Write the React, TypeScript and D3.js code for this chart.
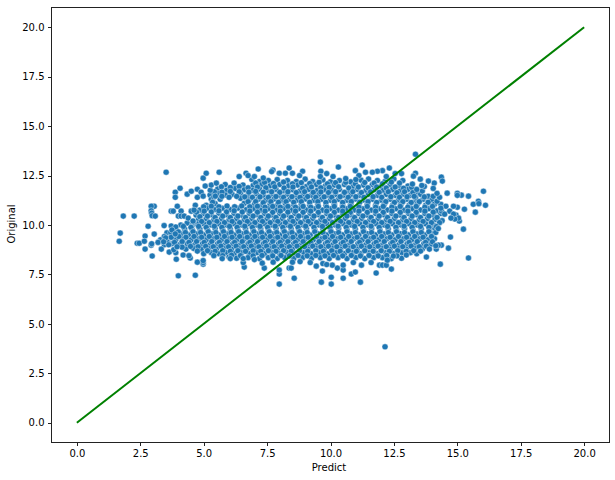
import { useEffect, useRef } from 'react';
import * as d3 from 'd3';

type Pt = [number, number];

const xTicks = [0, 2.5, 5, 7.5, 10, 12.5, 15, 17.5, 20];
const yTicks = [0, 2.5, 5, 7.5, 10, 12.5, 15, 17.5, 20];
const idealLine: Pt[] = [[0, 0], [20, 20]];

// points on the left side of the cloud
const leftPoints: Pt[] = [
  [3.52,12.67],[1.67,9.18],[1.71,9.59],[1.83,10.45],[2.26,10.45],[2.38,9.08],[2.46,9.08],[2.81,9.94],[2.69,9.44],[2.66,9.18],
  [2.69,8.78],[2.97,8.43],[2.97,10.95],[3.05,10.95],[2.93,10.95],[2.93,10.72],[2.95,10.6],[2.97,10.47],[3.09,10.45],[2.93,8.98],[2.95,9.05],
  [3.05,9.54],[3.44,9.97],[3.33,8.78],[4.0,7.43],[4.67,7.46],[4.98,8.02],[4.98,8.1],[4.75,8.12],[3.64,8.63],[3.92,8.27],
  [4.19,8.48],[4.47,8.33],[4.42,8.45],[3.88,11.66],[3.88,11.4],[4.07,11.86],[4.35,11.56],[4.51,11.71],[4.75,11.81],[4.9,11.66],
  [4.75,11.4],[4.98,11.46],[5.06,11.97],[5.26,11.76],[5.3,12.02],[5.5,12.12],[4.98,12.37],[5.1,12.62],[5.61,12.67],[5.46,11.46],
  [3.72,10.7],[3.8,10.7],[3.96,10.95],[4.11,10.7],[4.0,10.45],[4.11,10.45],[4.23,10.45],[4.39,10.35],[4.58,10.2],[4.51,10.7],
  [4.67,11.0],[4.62,10.75],[3.9,8.6],[3.82,8.75],[3.95,8.9],[3.62,9.0],[3.75,9.75],[3.88,9.55],[3.5,9.35],[3.42,9.15],
];

// top edge of the cloud
const topPoints: Pt[] = [
  [9.6,13.18],[10.31,12.93],[11.25,13.03],[8.37,12.88],[7.15,12.83],[7.73,12.78],[7.68,12.7],[7.98,12.62],[8.5,12.62],[8.9,12.72],[9.62,12.72],
  [10.98,12.75],[12.32,12.88],[12.05,12.75],[11.85,12.72],[11.65,12.67],[11.38,12.67],[11.12,12.5],[6.67,12.62],[6.75,12.5],[8.78,12.5],
  [9.6,12.45],[10.1,12.45],[8.22,12.62],[6.4,12.45],[7.0,12.45],[7.35,12.38],[9.85,12.6],[10.6,12.35],[11.0,12.3],
  [13.35,13.58],[13.35,12.62],[13.27,12.47],[12.8,12.6],[12.55,12.6],[12.2,12.45],
];

// bottom edge of the cloud
const bottomPoints: Pt[] = [
  [7.98,7.01],[8.57,7.31],[9.64,7.11],[10.03,7.01],[10.03,7.36],[10.5,7.31],[11.18,7.11],[10.82,7.52],[10.98,7.62],[11.8,7.57],
  [12.4,7.77],[7.98,7.52],[7.98,7.72],[6.6,7.87],[7.39,7.82],[7.31,8.07],[4.98,8.2],[9.68,7.67],[10.27,7.82],[10.5,7.72],
  [10.5,7.97],[10.07,7.97],[11.22,7.97],[11.93,7.97],[12.05,7.97],[12.2,7.97],[12.24,8.22],[9.44,7.92],[8.37,7.82],[8.45,7.82],
  [5.73,8.3],[6.05,8.3],[6.56,8.1],[6.56,8.3],[7.74,8.12],[8.5,8.12],[12.48,8.43],[12.99,8.48],[9.7,8.05],[9.85,8.0],
  [9.2,8.1],[8.8,8.15],[10.9,8.1],[11.6,8.1],[7.0,8.25],[5.4,8.45],
];

// right side of the cloud, including the loose points past x = 14
const rightPoints: Pt[] = [
  [16.03,11.71],[16.11,11.0],[15.83,11.2],[15.63,11.05],[15.85,11.08],[15.71,10.65],[15.44,11.46],[15.16,11.51],[15.0,11.6],[15.0,11.5],
  [14.6,11.61],[15.28,10.8],[15.0,10.9],[15.08,10.2],[15.24,9.79],[14.73,9.39],[14.65,8.83],[15.44,8.33],[14.33,8.02],[13.78,8.38],
  [14.37,8.98],[14.17,8.78],[14.25,8.98],[14.15,8.95],[13.9,8.78],[14.25,9.82],[14.37,12.42],[14.41,12.22],[14.09,12.12],[13.86,12.22],
  [13.54,12.32],[13.23,12.07],[14.55,10.95],[14.85,10.95],[14.7,10.7],[14.95,10.5],[15.05,10.35],[14.9,10.3],[14.5,10.55],[14.3,11.4],
  [14.2,11.6],[14.05,11.85],[13.7,11.95],[13.6,12.0],[13.4,11.8],[13.3,11.45],[14.35,10.85],[14.85,10.55],[14.75,10.35],
];

// stray point far under the cloud
const strayPoints: Pt[] = [[12.15,3.84]];

// the dense middle, read row by row from top to bottom
const densePoints: Pt[] = [
  [6.9,12.3],[7.2,12.2],[7.55,12.25],[7.9,12.3],[8.3,12.25],[8.65,12.2],[9.0,12.32],[9.3,12.2],[9.7,12.28],[10.0,12.18],[10.35,12.25],[10.8,12.18],[11.2,12.27],[11.5,12.33],[11.85,12.25],[12.15,12.2],[12.5,12.33],[12.85,12.25],
  [5.85,12.05],[6.2,12.12],[6.55,12.02],[6.95,12.0],[7.3,12.05],[7.62,11.98],[8.0,12.05],[8.35,11.98],[8.7,12.02],[9.05,11.95],[9.45,12.05],[9.8,11.98],[10.15,12.02],[10.55,12.05],[10.9,11.95],[11.3,12.02],[11.65,12.05],[12.0,11.97],[12.35,12.05],[12.7,12.0],[13.05,11.97],
  [5.55,11.82],[5.9,11.75],[6.25,11.85],[6.6,11.78],[6.92,11.75],[7.2,11.82],[7.5,11.75],[7.85,11.8],[8.15,11.73],[8.5,11.78],[8.8,11.72],[9.15,11.8],[9.48,11.75],[9.75,11.78],[10.05,11.75],[10.35,11.8],[10.72,11.72],[11.05,11.8],[11.4,11.75],[11.72,11.78],[12.08,11.75],[12.45,11.8],[12.75,11.72],[13.05,11.8],[13.4,11.65],
  [5.25,11.52],[5.55,11.6],[5.85,11.52],[6.12,11.55],[6.45,11.6],[6.75,11.5],[7.08,11.58],[7.35,11.5],[7.68,11.55],[7.98,11.5],[8.3,11.56],[8.62,11.5],[8.95,11.55],[9.25,11.5],[9.55,11.55],[9.9,11.5],[10.2,11.55],[10.5,11.5],[10.82,11.55],[11.15,11.5],[11.5,11.55],[11.85,11.5],[12.2,11.55],[12.55,11.5],[12.88,11.56],[13.15,11.5],[13.55,11.55],[13.85,11.45],
  [5.3,11.3],[5.65,11.3],[6.45,11.35],[6.8,11.28],[7.15,11.3],[7.45,11.25],[7.78,11.32],[8.08,11.25],[8.4,11.3],[8.7,11.27],[9.02,11.32],[9.35,11.25],[9.65,11.3],[10.0,11.25],[10.32,11.3],[10.65,11.25],[10.98,11.32],[11.3,11.27],[11.65,11.3],[12.0,11.25],[12.35,11.3],[12.68,11.25],[13.0,11.3],[13.35,11.25],[13.65,11.3],[14.0,11.28],
  [5.1,11.0],[5.45,11.08],[6.6,11.1],[7.0,11.05],[7.3,11.0],[7.62,11.05],[7.92,11.02],[8.22,11.08],[8.55,11.02],[8.85,11.05],[9.18,11.0],[9.5,11.05],[9.82,11.0],[10.15,11.05],[10.48,11.0],[10.8,11.05],[11.12,11.02],[11.45,11.05],[11.78,11.0],[12.12,11.05],[12.45,11.0],[12.78,11.05],[13.1,11.0],[13.42,11.05],[13.75,11.0],[14.1,11.05],[14.35,11.05],
  [4.85,10.75],[5.15,10.85],[5.45,10.78],[5.75,10.85],[6.05,10.78],[6.35,10.85],[6.68,10.78],[6.98,10.82],[7.25,10.75],[7.55,10.82],[7.85,10.76],[8.15,10.82],[8.45,10.75],[8.75,10.82],[9.05,10.76],[9.35,10.82],[9.68,10.75],[10.0,10.82],[10.3,10.75],[10.62,10.82],[10.95,10.76],[11.28,10.82],[11.6,10.75],[11.92,10.82],[12.25,10.76],[12.58,10.82],[12.9,10.75],[13.22,10.82],[13.55,10.76],[13.88,10.82],[14.2,10.72],
  [4.7,10.5],[5.0,10.58],[5.3,10.52],[5.6,10.6],[5.9,10.52],[6.2,10.58],[6.5,10.5],[6.8,10.58],[7.1,10.52],[7.4,10.58],[7.7,10.5],[8.0,10.58],[8.3,10.52],[8.6,10.58],[8.9,10.5],[9.2,10.58],[9.52,10.52],[9.85,10.58],[10.15,10.5],[10.48,10.58],[10.8,10.52],[11.12,10.58],[11.45,10.5],[11.78,10.58],[12.1,10.52],[12.42,10.58],[12.75,10.5],[13.08,10.58],[13.4,10.52],[13.72,10.58],[14.05,10.5],[14.35,10.58],
  [4.35,10.1],[4.55,10.0],[4.8,10.28],[5.1,10.32],[5.4,10.25],[5.7,10.32],[6.0,10.25],[6.3,10.32],[6.6,10.25],[6.9,10.32],[7.2,10.25],[7.5,10.32],[7.8,10.25],[8.1,10.32],[8.4,10.25],[8.7,10.32],[9.0,10.25],[9.3,10.32],[9.62,10.25],[9.95,10.32],[10.25,10.25],[10.58,10.32],[10.9,10.25],[11.22,10.32],[11.55,10.25],[11.88,10.32],[12.2,10.25],[12.52,10.32],[12.85,10.25],[13.18,10.32],[13.5,10.25],[13.82,10.32],[14.12,10.28],[14.4,10.22],
  [4.1,10.0],[4.75,10.05],[5.02,10.05],[5.3,10.0],[5.6,10.06],[5.9,10.0],[6.2,10.06],[6.5,10.0],[6.8,10.06],[7.1,10.0],[7.4,10.06],[7.7,10.0],[8.0,10.06],[8.3,10.0],[8.6,10.06],[8.92,10.0],[9.22,10.06],[9.55,10.0],[9.85,10.06],[10.18,10.0],[10.5,10.06],[10.82,10.0],[11.15,10.06],[11.48,10.0],[11.8,10.06],[12.12,10.0],[12.45,10.06],[12.78,10.0],[13.1,10.06],[13.42,10.0],[13.75,10.06],[14.05,10.0],
  [3.72,9.95],[3.95,9.7],[4.25,9.8],[4.55,9.75],[4.85,9.8],[5.15,9.75],[5.45,9.82],[5.75,9.75],[6.05,9.8],[6.35,9.75],[6.65,9.82],[6.95,9.75],[7.25,9.8],[7.55,9.75],[7.85,9.82],[8.15,9.75],[8.45,9.8],[8.75,9.75],[9.05,9.82],[9.38,9.75],[9.7,9.8],[10.0,9.75],[10.32,9.82],[10.65,9.75],[10.98,9.8],[11.3,9.75],[11.62,9.82],[11.95,9.75],[12.28,9.8],[12.6,9.75],[12.92,9.82],[13.25,9.75],[13.58,9.8],[13.9,9.75],[14.12,9.82],
  [3.55,9.6],[3.8,9.45],[4.1,9.55],[4.4,9.5],[4.7,9.55],[5.0,9.5],[5.3,9.56],[5.6,9.5],[5.9,9.55],[6.2,9.5],[6.5,9.56],[6.8,9.5],[7.1,9.55],[7.4,9.5],[7.7,9.56],[8.0,9.5],[8.3,9.55],[8.6,9.5],[8.9,9.56],[9.2,9.5],[9.52,9.55],[9.85,9.5],[10.15,9.56],[10.48,9.5],[10.8,9.55],[11.12,9.5],[11.45,9.56],[11.78,9.5],[12.1,9.55],[12.42,9.5],[12.75,9.56],[13.08,9.5],[13.4,9.55],[13.72,9.5],[14.0,9.55],
  [3.3,9.25],[3.6,9.3],[3.9,9.25],[4.2,9.3],[4.5,9.25],[4.8,9.3],[5.1,9.25],[5.4,9.3],[5.7,9.25],[6.0,9.3],[6.3,9.25],[6.6,9.3],[6.9,9.25],[7.2,9.3],[7.5,9.25],[7.8,9.3],[8.1,9.25],[8.4,9.3],[8.7,9.25],[9.0,9.3],[9.32,9.25],[9.65,9.3],[9.95,9.25],[10.28,9.3],[10.6,9.25],[10.92,9.3],[11.25,9.25],[11.58,9.3],[11.9,9.25],[12.22,9.3],[12.55,9.25],[12.88,9.3],[13.2,9.25],[13.52,9.3],[13.85,9.25],[14.1,9.3],
  [3.45,9.0],[3.75,9.05],[4.05,9.0],[4.35,9.05],[4.65,9.0],[4.95,9.05],[5.25,9.0],[5.55,9.05],[5.85,9.0],[6.15,9.05],[6.45,9.0],[6.75,9.05],[7.05,9.0],[7.35,9.05],[7.65,9.0],[7.95,9.05],[8.25,9.0],[8.55,9.05],[8.85,9.0],[9.15,9.05],[9.48,9.0],[9.8,9.05],[10.1,9.0],[10.42,9.05],[10.75,9.0],[11.08,9.05],[11.4,9.0],[11.72,9.05],[12.05,9.0],[12.38,9.05],[12.7,9.0],[13.02,9.05],[13.35,9.0],[13.68,9.05],[13.95,9.02],
  [4.3,8.78],[4.6,8.82],[4.9,8.78],[5.2,8.82],[5.5,8.78],[5.8,8.82],[6.1,8.78],[6.4,8.82],[6.7,8.78],[7.0,8.82],[7.3,8.78],[7.6,8.82],[7.9,8.78],[8.2,8.82],[8.5,8.78],[8.8,8.82],[9.12,8.78],[9.45,8.82],[9.75,8.78],[10.08,8.82],[10.4,8.78],[10.72,8.82],[11.05,8.78],[11.38,8.82],[11.7,8.78],[12.02,8.82],[12.35,8.78],[12.68,8.82],[13.0,8.78],[13.32,8.82],[13.62,8.78],
  [5.0,8.55],[5.3,8.6],[5.6,8.55],[5.9,8.6],[6.2,8.55],[6.5,8.6],[6.8,8.55],[7.1,8.6],[7.4,8.55],[7.7,8.6],[8.0,8.55],[8.3,8.6],[8.62,8.55],[8.95,8.6],[9.25,8.55],[9.58,8.6],[9.9,8.55],[10.22,8.6],[10.55,8.55],[10.88,8.6],[11.2,8.55],[11.52,8.6],[11.85,8.55],[12.18,8.6],[12.5,8.55],[12.82,8.6],[13.15,8.6],[13.4,8.55],
  [6.0,8.38],[6.3,8.32],[6.75,8.35],[7.2,8.3],[7.55,8.35],[7.9,8.3],[8.2,8.35],[8.55,8.3],[8.9,8.35],[9.25,8.3],[9.6,8.35],[9.95,8.3],[10.3,8.35],[10.65,8.3],[11.0,8.35],[11.35,8.3],[11.7,8.35],[12.05,8.35],[12.4,8.3],[12.8,8.32],
];

// second pass over the middle, the points sitting in between the first rows
const denseFill: Pt[] = [
  [7.05,12.12],[7.4,12.15],[7.75,12.1],[8.15,12.17],[8.5,12.08],[8.85,12.14],[9.18,12.1],[9.55,12.16],[9.88,12.08],[10.2,12.14],[10.6,12.16],[10.98,12.08],[11.35,12.15],[11.72,12.12],[12.05,12.08],[12.4,12.17],[12.72,12.12],
  [5.7,11.93],[6.05,11.9],[6.4,11.95],[6.75,11.88],[7.12,11.92],[7.45,11.88],[7.8,11.93],[8.17,11.87],[8.52,11.92],[8.9,11.86],[9.25,11.92],[9.62,11.88],[9.95,11.9],[10.32,11.93],[10.72,11.87],[11.1,11.92],[11.48,11.88],[11.82,11.92],[12.2,11.87],[12.55,11.92],[12.88,11.86],[13.2,11.9],
  [5.42,11.68],[5.72,11.66],[6.05,11.7],[6.4,11.68],[6.78,11.66],[7.05,11.7],[7.35,11.66],[7.68,11.68],[8.0,11.65],[8.32,11.68],[8.65,11.64],[8.98,11.68],[9.32,11.65],[9.62,11.67],[9.92,11.64],[10.2,11.68],[10.55,11.65],[10.88,11.68],[11.22,11.64],[11.58,11.67],[11.92,11.65],[12.28,11.68],[12.62,11.63],[12.92,11.68],[13.25,11.64],[13.62,11.72],
  [5.4,11.42],[5.72,11.45],[6.0,11.4],[6.3,11.45],[6.62,11.42],[6.92,11.4],[7.22,11.42],[7.55,11.4],[7.85,11.44],[8.15,11.4],[8.48,11.43],[8.8,11.4],[9.1,11.44],[9.42,11.4],[9.75,11.42],[10.05,11.4],[10.38,11.43],[10.7,11.4],[11.0,11.43],[11.32,11.4],[11.68,11.43],[12.02,11.4],[12.38,11.43],[12.72,11.4],[13.02,11.43],[13.35,11.4],[13.7,11.42],[14.05,11.45],
  [5.35,11.15],[6.75,11.18],[7.05,11.18],[7.35,11.13],[7.65,11.18],[7.95,11.15],[8.25,11.18],[8.55,11.15],[8.85,11.18],[9.18,11.15],[9.5,11.18],[9.82,11.14],[10.15,11.18],[10.48,11.14],[10.82,11.18],[11.15,11.15],[11.48,11.18],[11.82,11.14],[12.18,11.18],[12.52,11.14],[12.85,11.18],[13.18,11.14],[13.5,11.18],[13.85,11.15],[14.2,11.2],
  [5.0,10.92],[5.3,10.95],[5.6,10.92],[5.92,10.96],[6.22,10.92],[6.5,10.96],[6.82,10.92],[7.12,10.95],[7.42,10.9],[7.72,10.94],[8.02,10.9],[8.32,10.94],[8.62,10.9],[8.92,10.94],[9.22,10.9],[9.52,10.94],[9.85,10.9],[10.15,10.94],[10.48,10.9],[10.78,10.94],[11.12,10.9],[11.45,10.94],[11.78,10.9],[12.08,10.94],[12.42,10.9],[12.75,10.94],[13.05,10.9],[13.38,10.94],[13.72,10.9],[14.02,10.94],
  [4.72,10.65],[5.02,10.7],[5.3,10.66],[5.6,10.72],[5.9,10.66],[6.2,10.72],[6.52,10.66],[6.82,10.7],[7.12,10.65],[7.42,10.7],[7.72,10.64],[8.02,10.7],[8.32,10.65],[8.62,10.7],[8.92,10.64],[9.22,10.7],[9.52,10.64],[9.85,10.7],[10.15,10.64],[10.48,10.7],[10.78,10.64],[11.12,10.7],[11.45,10.64],[11.78,10.7],[12.08,10.64],[12.42,10.7],[12.75,10.64],[13.05,10.7],[13.38,10.64],[13.72,10.7],[14.05,10.65],[14.38,10.7],
  [4.85,10.42],[5.15,10.45],[5.45,10.38],[5.75,10.45],[6.05,10.38],[6.35,10.45],[6.65,10.38],[6.95,10.45],[7.25,10.38],[7.55,10.45],[7.85,10.38],[8.15,10.45],[8.45,10.38],[8.75,10.45],[9.05,10.38],[9.35,10.45],[9.68,10.38],[10.0,10.45],[10.32,10.38],[10.65,10.45],[10.95,10.38],[11.28,10.45],[11.6,10.38],[11.92,10.45],[12.25,10.38],[12.58,10.45],[12.9,10.38],[13.22,10.45],[13.55,10.38],[13.88,10.45],[14.2,10.38],
  [4.6,10.15],[4.92,10.18],[5.22,10.12],[5.52,10.18],[5.82,10.12],[6.12,10.18],[6.42,10.12],[6.72,10.18],[7.02,10.12],[7.32,10.18],[7.62,10.12],[7.92,10.18],[8.22,10.12],[8.52,10.18],[8.82,10.12],[9.12,10.18],[9.45,10.12],[9.78,10.18],[10.08,10.12],[10.4,10.18],[10.72,10.12],[11.05,10.18],[11.38,10.12],[11.7,10.18],[12.02,10.12],[12.35,10.18],[12.68,10.12],[13.0,10.18],[13.32,10.12],[13.65,10.18],[13.98,10.12],[14.3,10.12],
  [3.9,9.9],[4.2,9.93],[4.5,9.88],[4.8,9.93],[5.1,9.88],[5.42,9.94],[5.72,9.88],[6.02,9.93],[6.32,9.88],[6.62,9.94],[6.92,9.88],[7.22,9.93],[7.52,9.88],[7.82,9.94],[8.12,9.88],[8.42,9.93],[8.72,9.88],[9.02,9.94],[9.35,9.88],[9.68,9.93],[9.98,9.88],[10.3,9.94],[10.62,9.88],[10.95,9.93],[11.28,9.88],[11.6,9.94],[11.92,9.88],[12.25,9.93],[12.58,9.88],[12.9,9.94],[13.22,9.88],[13.55,9.93],[13.88,9.88],[14.18,9.92],
  [3.7,9.62],[4.0,9.65],[4.28,9.62],[4.58,9.66],[4.88,9.62],[5.18,9.66],[5.48,9.62],[5.78,9.66],[6.08,9.62],[6.38,9.66],[6.68,9.62],[6.98,9.66],[7.28,9.62],[7.58,9.66],[7.88,9.62],[8.18,9.66],[8.48,9.62],[8.78,9.66],[9.08,9.62],[9.38,9.66],[9.7,9.62],[10.02,9.66],[10.32,9.62],[10.65,9.66],[10.98,9.62],[11.3,9.66],[11.62,9.62],[11.95,9.66],[12.28,9.62],[12.6,9.66],[12.92,9.62],[13.25,9.66],[13.58,9.62],[13.88,9.66],[14.15,9.62],
  [3.45,9.42],[3.72,9.38],[4.02,9.42],[4.3,9.38],[4.62,9.42],[4.92,9.38],[5.22,9.42],[5.52,9.38],[5.82,9.42],[6.12,9.38],[6.42,9.42],[6.72,9.38],[7.02,9.42],[7.32,9.38],[7.62,9.42],[7.92,9.38],[8.22,9.42],[8.52,9.38],[8.82,9.42],[9.12,9.38],[9.45,9.42],[9.78,9.38],[10.08,9.42],[10.4,9.38],[10.72,9.42],[11.05,9.38],[11.38,9.42],[11.7,9.38],[12.02,9.42],[12.35,9.38],[12.68,9.42],[13.0,9.38],[13.32,9.42],[13.65,9.38],[13.98,9.42],
  [3.2,9.12],[3.55,9.15],[3.85,9.12],[4.15,9.16],[4.42,9.12],[4.72,9.16],[5.02,9.12],[5.32,9.16],[5.62,9.12],[5.92,9.16],[6.22,9.12],[6.52,9.16],[6.82,9.12],[7.12,9.16],[7.42,9.12],[7.72,9.16],[8.02,9.12],[8.32,9.16],[8.62,9.12],[8.92,9.16],[9.22,9.12],[9.55,9.16],[9.88,9.12],[10.18,9.16],[10.5,9.12],[10.82,9.16],[11.15,9.12],[11.48,9.16],[11.8,9.12],[12.12,9.16],[12.45,9.12],[12.78,9.16],[13.1,9.12],[13.42,9.16],[13.75,9.12],[14.02,9.15],
  [4.15,8.88],[4.48,8.92],[4.78,8.9],[5.08,8.92],[5.38,8.9],[5.68,8.93],[5.98,8.9],[6.28,8.93],[6.58,8.9],[6.88,8.93],[7.18,8.9],[7.48,8.93],[7.78,8.9],[8.08,8.93],[8.38,8.9],[8.68,8.93],[8.98,8.9],[9.3,8.93],[9.62,8.9],[9.92,8.93],[10.25,8.9],[10.58,8.93],[10.9,8.9],[11.22,8.93],[11.55,8.9],[11.88,8.93],[12.2,8.9],[12.52,8.93],[12.85,8.9],[13.18,8.93],[13.5,8.9],[13.78,8.93],
  [4.75,8.68],[5.15,8.7],[5.45,8.67],[5.75,8.7],[6.05,8.67],[6.35,8.7],[6.65,8.67],[6.95,8.7],[7.25,8.67],[7.55,8.7],[7.85,8.67],[8.15,8.7],[8.45,8.67],[8.78,8.7],[9.1,8.67],[9.42,8.7],[9.72,8.67],[10.05,8.7],[10.38,8.67],[10.7,8.7],[11.02,8.67],[11.35,8.7],[11.68,8.67],[12.0,8.7],[12.32,8.67],[12.65,8.7],[12.98,8.67],[13.28,8.7],[13.55,8.68],
  [5.75,8.45],[6.1,8.47],[6.45,8.45],[6.95,8.44],[7.3,8.46],[7.72,8.44],[8.05,8.46],[8.38,8.44],[8.72,8.46],[9.08,8.44],[9.42,8.46],[9.78,8.44],[10.12,8.46],[10.48,8.44],[10.82,8.46],[11.18,8.44],[11.52,8.46],[11.88,8.44],[12.22,8.46],[12.62,8.44],
];

const points: Pt[] = [...densePoints, ...denseFill, ...leftPoints, ...topPoints, ...bottomPoints, ...rightPoints, ...strayPoints];

export default function App() {
  const svgRef = useRef<SVGSVGElement>(null);

  useEffect(() => {
    if (!svgRef.current) return;
    const svg = d3.select(svgRef.current);
    svg.selectAll('*').remove();

    const x = d3.scaleLinear().domain([-1, 21]).range([51.5, 609.5]);
    const y = d3.scaleLinear().domain([-1, 21]).range([442.5, 7.5]);

    svg.append('g')
      .selectAll('circle')
      .data(points)
      .enter().append('circle')
      .attr('cx', d => x(d[0]))
      .attr('cy', d => y(d[1]))
      .attr('r', 3.05)
      .attr('fill', '#1f77b4')
      .attr('stroke', '#fff')
      .attr('stroke-opacity', 0.6)
      .attr('stroke-width', 0.7);

    const line = d3.line<Pt>().x(d => x(d[0])).y(d => y(d[1]));
    svg.append('path')
      .attr('d', line(idealLine))
      .attr('fill', 'none')
      .attr('stroke', 'green')
      .attr('stroke-width', 2);

    const xAxis = svg.append('g')
      .attr('transform', 'translate(0,442.5)')
      .call(d3.axisBottom(x).tickValues(xTicks).tickFormat(d3.format('.1f')).tickSize(3.5).tickSizeOuter(0).tickPadding(3.5));
    const yAxis = svg.append('g')
      .attr('transform', 'translate(51.5,0)')
      .call(d3.axisLeft(y).tickValues(yTicks).tickFormat(d3.format('.1f')).tickSize(3.5).tickSizeOuter(0).tickPadding(3.5));

    [xAxis, yAxis].forEach(g => {
      g.selectAll('text').attr('font-family', 'DejaVu Sans').attr('font-size', 10).attr('fill', '#000');
      g.selectAll('line').attr('stroke', '#222').attr('stroke-width', 1).attr('shape-rendering', 'crispEdges');
      g.select('.domain').attr('stroke', 'none');
    });

    // frame
    svg.append('rect')
      .attr('x', 51.5)
      .attr('y', 7.5)
      .attr('width', 558)
      .attr('height', 435)
      .attr('fill', 'none')
      .attr('stroke', '#222')
      .attr('stroke-width', 1)
      .attr('shape-rendering', 'crispEdges');

    svg.append('text')
      .attr('x', 329)
      .attr('y', 471)
      .attr('text-anchor', 'middle')
      .attr('font-family', 'DejaVu Sans')
      .attr('font-size', 10)
      .attr('fill', '#000')
      .text('Predict');

    svg.append('text')
      .attr('transform', 'translate(15,224) rotate(-90)')
      .attr('text-anchor', 'middle')
      .attr('font-family', 'DejaVu Sans')
      .attr('font-size', 10)
      .attr('fill', '#000')
      .text('Original');
  }, []);

  return (
    <svg
      ref={svgRef}
      width={615}
      height={480}
      style={{ position: 'absolute', left: 0, top: 0, background: '#fff' }}
    />
  );
}
